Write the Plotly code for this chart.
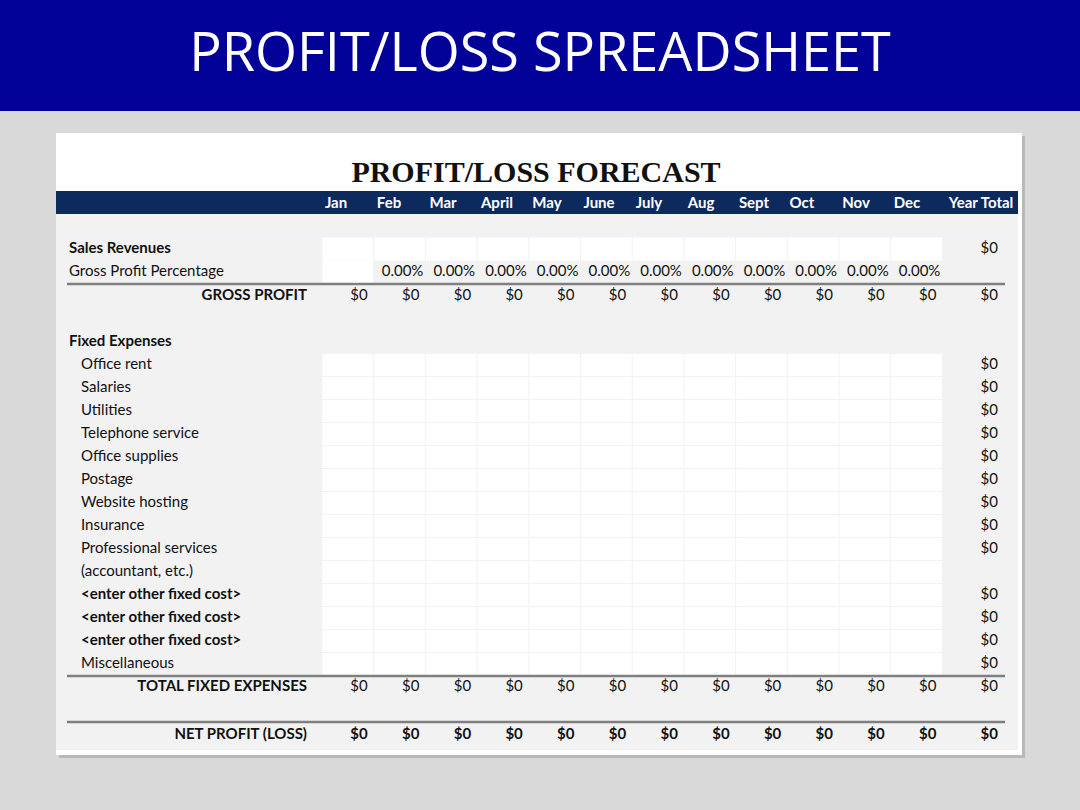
import plotly.graph_objects as go

# ---- data ----
months = ["Jan", "Feb", "Mar", "April", "May", "June", "July", "Aug", "Sept", "Oct", "Nov", "Dec"]
gross_pct = [None, 0.0, 0.0, 0.0, 0.0, 0.0, 0.0, 0.0, 0.0, 0.0, 0.0, 0.0]
gross_profit = [0] * 12
total_fixed = [0] * 12
net_profit = [0] * 12
sales_total = 0
fixed_items = ["Office rent", "Salaries", "Utilities", "Telephone service", "Office supplies",
               "Postage", "Website hosting", "Insurance", "Professional services",
               "(accountant, etc.)", "<enter other fixed cost>", "<enter other fixed cost>",
               "<enter other fixed cost>", "Miscellaneous"]
fixed_totals = [0, 0, 0, 0, 0, 0, 0, 0, 0, None, 0, 0, 0, 0]
bold_items = ["<enter other fixed cost>"]

# ---- geometry (pixel space) ----
col_left = 322
col_w = 51.7
col_edges = [col_left + i * col_w for i in range(13)]
header_x = [336, 389, 443, 497, 547, 599, 649, 701, 754, 802, 856, 907]
row_h = 23
y_sales = 249
y_pct = 272
y_gp = 296
y_fixed = 342
y_items = [365 + i * row_h for i in range(len(fixed_items))]
y_tfe = 687
y_net = 735
year_x = 998

FONT = "Lato"
DARK = "#111111"

fig = go.Figure()
shapes = []

def rect(x0, y0, x1, y1, fill, layer="below"):
    shapes.append(dict(type="rect", x0=x0, y0=y0, x1=x1, y1=y1, fillcolor=fill,
                       line=dict(color=fill, width=0), layer=layer))

# backgrounds
rect(0, 0, 1080, 810, "#D9D9D9")
rect(0, 0, 1080, 111, "#020299")
rect(59, 136, 1025, 758, "#B8B8B8")          # shadow
rect(56, 133, 1022, 755, "#FFFFFF")
rect(56, 214, 1018, 750, "#F2F2F2")
rect(56, 191, 1018, 214, "#0D2A5E")

# white input cells
for i in range(12):
    rect(col_edges[i] + 0.5, y_sales - 11.5, col_edges[i + 1] - 0.5, y_sales + 11.5, "#FFFFFF")
rect(col_edges[0] + 0.5, y_pct - 11.5, col_edges[1] - 0.5, y_pct + 11.5, "#FFFFFF")
for y in y_items:
    for i in range(12):
        rect(col_edges[i] + 0.5, y - 11, col_edges[i + 1] - 0.5, y + 11, "#FFFFFF")

# divider lines
for y in [284, 676, 722]:
    shapes.append(dict(type="line", x0=67, x1=1005, y0=y, y1=y,
                       line=dict(color="#7F7F7F", width=2.5), layer="below"))

def text(xs, ys, texts, pos, size=15, color=DARK, bold=False, family=FONT):
    t = [f"<b>{s}</b>" if bold else s for s in texts]
    fig.add_trace(go.Scatter(x=xs, y=ys, text=t, mode="text", textposition=pos,
                             textfont=dict(family=family, size=size, color=color),
                             hoverinfo="skip", showlegend=False))

def money(v):
    return f"${v:,.0f}"

# titles
text([540], [57], ["PROFIT/LOSS SPREADSHEET"], "middle center", size=54, color="#FFFFFF",
     family="Open Sans")
text([536], [174], ["PROFIT/LOSS FORECAST"], "middle center", size=30, bold=True,
     family="Liberation Serif")

# header
text(header_x, [204] * 12, months, "middle center", color="#FFFFFF", bold=True)
text([981], [204], ["Year Total"], "middle center", color="#FFFFFF", bold=True)

# left labels
text([69], [y_sales], ["Sales Revenues"], "middle right", bold=True)
text([69], [y_pct], ["Gross Profit Percentage"], "middle right")
text([69], [y_fixed], ["Fixed Expenses"], "middle right", bold=True)
for lab, y in zip(fixed_items, y_items):
    text([81], [y], [lab], "middle right", bold=lab in bold_items)
text([307], [y_gp], ["GROSS PROFIT"], "middle left", bold=True)
text([307], [y_tfe], ["TOTAL FIXED EXPENSES"], "middle left", bold=True)
text([307], [y_net], ["NET PROFIT (LOSS)"], "middle left", bold=True)

# values
pct_x = [col_edges[i + 1] - 2 for i, v in enumerate(gross_pct) if v is not None]
pct_t = [f"{v:.2%}" for v in gross_pct if v is not None]
text(pct_x, [y_pct] * len(pct_x), pct_t, "middle left")
val_x = [col_edges[i + 1] - 6 for i in range(12)]
text(val_x, [y_gp] * 12, [money(v) for v in gross_profit], "middle left")
text(val_x, [y_tfe] * 12, [money(v) for v in total_fixed], "middle left")
text(val_x, [y_net] * 12, [money(v) for v in net_profit], "middle left", bold=True)

# year totals
text([year_x], [y_sales], [money(sales_total)], "middle left")
text([year_x], [y_gp], [money(sum(gross_profit))], "middle left")
yt = [y for y, v in zip(y_items, fixed_totals) if v is not None]
text([year_x] * len(yt), yt, [money(v) for v in fixed_totals if v is not None], "middle left")
text([year_x], [y_tfe], [money(sum(total_fixed))], "middle left")
text([year_x], [y_net], [money(sum(net_profit))], "middle left", bold=True)

fig.update_layout(
    width=1080, height=810, margin=dict(l=0, r=0, t=0, b=0),
    paper_bgcolor="#D9D9D9", plot_bgcolor="#D9D9D9", shapes=shapes,
    xaxis=dict(range=[0, 1080], visible=False, fixedrange=True),
    yaxis=dict(range=[810, 0], visible=False, fixedrange=True),
)
fig.write_html("out.html", config=dict(displayModeBar=False),
               post_script="document.body.style.margin='0';document.body.style.overflow='hidden';")
